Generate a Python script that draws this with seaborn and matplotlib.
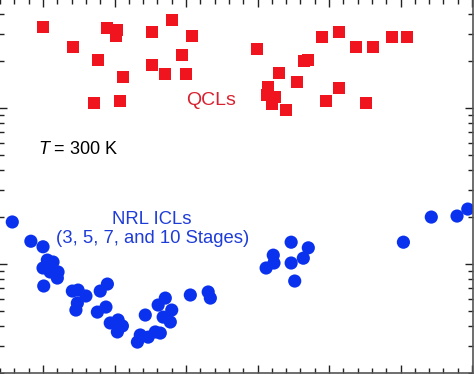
import numpy as np
import pandas as pd
import seaborn as sns
import matplotlib.pyplot as plt
from matplotlib.ticker import MultipleLocator, LogLocator, NullFormatter


# QCLs (red squares)
qcl_x = [3.00, 3.90, 4.04, 4.02, 4.52, 3.42, 3.77, 4.52, 4.71, 4.12, 3.71, 4.08,
         4.80, 5.08, 4.94, 5.00, 5.99, 6.90, 6.65, 6.71, 6.30, 6.55, 6.15, 6.13,
         6.25, 6.20, 6.40, 6.96, 7.14, 7.38, 7.62, 7.88, 8.09, 7.14, 7.52]
qcl_y = [33.0, 32.6, 31.6, 28.9, 30.7, 24.6, 20.3, 18.9, 16.5, 15.8, 10.8, 11.1,
         36.6, 28.9, 21.9, 16.5, 23.9, 28.5, 20.0, 20.3, 16.8, 14.7, 13.6, 12.1,
         11.8, 10.6, 9.7, 11.1, 30.7, 24.6, 24.6, 28.5, 28.5, 13.4, 10.8]

# NRL ICLs (blue circles)
icl_x = [2.57, 2.83, 3.00, 3.06, 3.14, 3.00, 3.10, 3.21, 3.20, 3.01,
         3.41, 3.49, 3.60, 3.48, 3.46, 3.90, 3.80, 3.88, 3.76,
         3.94, 4.05, 4.11, 4.04, 4.32, 4.36, 4.43, 4.47, 4.57, 4.61,
         4.71, 4.80, 4.78, 4.68, 4.64, 5.06, 5.31, 5.34,
         6.22, 6.12, 6.23, 6.47, 6.71, 6.64, 6.47, 6.52,
         8.04, 8.43, 8.79, 8.94]
icl_y = [1.86, 1.40, 1.29, 1.06, 1.03, 0.943, 0.889, 0.889, 0.813, 0.723,
         0.671, 0.681, 0.624, 0.562, 0.507, 0.744, 0.671, 0.530, 0.492,
         0.419, 0.438, 0.401, 0.367, 0.316, 0.351, 0.471, 0.340, 0.367, 0.546,
         0.605, 0.507, 0.425, 0.457, 0.361, 0.633, 0.662, 0.605,
         1.14, 0.943, 1.015, 1.38, 1.27, 1.09, 1.015, 0.778,
         1.38, 2.00, 2.03, 2.25]

sns.set_style("ticks")
plt.rcParams['font.family'] = ['Liberation Sans', 'DejaVu Sans']
plt.rcParams['mathtext.fontset'] = 'custom'
plt.rcParams['mathtext.rm'] = 'Liberation Sans'
plt.rcParams['mathtext.it'] = 'Liberation Sans:italic'

fig = plt.figure(figsize=(4.74, 3.74), dpi=100)
ax = fig.add_axes([-0.002, 0.002, 1.0, 1.0])

qcl = pd.DataFrame({'x': qcl_x, 'y': qcl_y})
icl = pd.DataFrame({'x': icl_x, 'y': icl_y})

sns.scatterplot(data=qcl, x='x', y='y', marker='s', s=75, color='#F0141E',
                edgecolor='none', linewidth=0, ax=ax)
sns.scatterplot(data=icl, x='x', y='y', marker='o', s=90, color='#0A32EE',
                edgecolor='none', linewidth=0, ax=ax)

ax.set_yscale('log')
ax.set_xlim(2.385, 9.014)
ax.set_ylim(10 ** -0.70, 10 ** 1.697)

ax.xaxis.set_major_locator(MultipleLocator(1))
ax.xaxis.set_minor_locator(MultipleLocator(0.2))
ax.yaxis.set_major_locator(LogLocator(base=10))
ax.yaxis.set_minor_locator(LogLocator(base=10, subs=np.arange(2, 10)))
ax.xaxis.set_major_formatter(NullFormatter())
ax.yaxis.set_major_formatter(NullFormatter())
ax.yaxis.set_minor_formatter(NullFormatter())
ax.set_xlabel('')
ax.set_ylabel('')

ax.tick_params(which='both', direction='in', top=True, right=True,
               color='#222222', width=1.0)
ax.tick_params(which='major', length=6)
ax.tick_params(which='minor', length=3.5)
for sp in ax.spines.values():
    sp.set_color('#555555')
    sp.set_linewidth(1.2)

ax.text(0.447, 0.728, 'QCLs', transform=ax.transAxes, ha='center', va='center',
        fontsize=14, color='#D8202E')
ax.text(0.082, 0.597, '$T$ = 300 K', transform=ax.transAxes, ha='left', va='center',
        fontsize=13, color='black')
ax.text(0.323, 0.386, 'NRL ICLs\n(3, 5, 7, and 10 Stages)', transform=ax.transAxes,
        ha='center', va='center', fontsize=13.3, color='#1E3CD8', linespacing=1.2)

plt.savefig("out.png", dpi=100)
